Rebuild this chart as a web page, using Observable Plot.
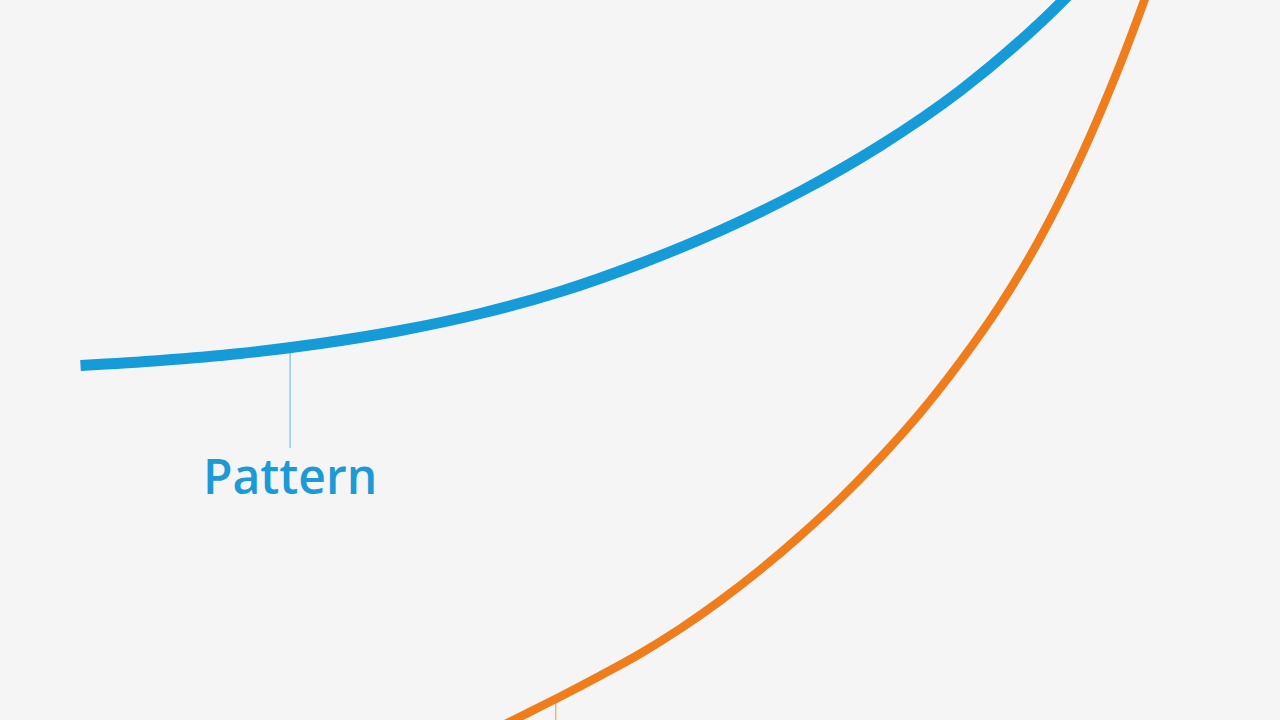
<!DOCTYPE html>
<html>
<head>
<meta charset="utf-8">
<script src="https://cdn.jsdelivr.net/npm/d3@7"></script>
<script src="https://cdn.jsdelivr.net/npm/@observablehq/plot@0.6"></script>
<style>
  html, body { margin: 0; padding: 0; background: #f5f5f5; overflow: hidden; }
  #chart svg { display: block; }
</style>
</head>
<body>
<div id="chart"></div>
<script>
// Blue series ("Pattern")
const blueX = [1, 2, 3, 4, 5, 6, 7, 8, 9, 10, 11, 12, 13, 14];
const blueY = [4.4375, 4.5, 4.5875, 4.7125, 4.875, 5.0875, 5.3625, 5.7125, 6.125, 6.6125, 7.1875, 7.875, 8.725, 9.75];

// Orange series
const orangeX = [6, 6.5, 7, 7.5, 8, 8.5, 9, 9.5, 10, 10.5, 11, 11.5, 12, 12.5, 13, 13.5, 14, 14.5];
const orangeY = [-0.2, 0.05, 0.3, 0.5625, 0.8375, 1.15, 1.5, 1.8875, 2.3125, 2.775, 3.2875, 3.85, 4.4875, 5.2, 6.0375, 7.0375, 8.2125, 9.5625];

// Labels
const labelText = ["Pattern"];
const labelX = [3.62];
const labelTop = [4.6];
const labelBottom = [3.4];
const labelY = [3.02];

const orangeLeaderX = [6.94];
const orangeLeaderTop = [0.22];
const orangeLeaderBottom = [-1];

const blue = blueX.map((x, i) => ({x, y: blueY[i]}));
const orange = orangeX.map((x, i) => ({x, y: orangeY[i]}));
const labels = labelText.map((t, i) => ({t, x: labelX[i], y1: labelTop[i], y2: labelBottom[i], ty: labelY[i]}));
const orangeLeaders = orangeLeaderX.map((x, i) => ({x, y1: orangeLeaderTop[i], y2: orangeLeaderBottom[i]}));

const chart = Plot.plot({
  width: 1280,
  height: 720,
  margin: 0,
  x: {domain: [0, 16], axis: null},
  y: {domain: [0, 9], axis: null},
  style: {background: "#f5f5f5"},
  marks: [
    Plot.ruleX(labels, {x: "x", y1: "y1", y2: "y2", stroke: "#8fcbec", strokeWidth: 1.5, clip: true}),
    Plot.ruleX(orangeLeaders, {x: "x", y1: "y1", y2: "y2", stroke: "#f5b27a", strokeWidth: 1.5, clip: true}),
    Plot.line(blue, {x: "x", y: "y", curve: "catmull-rom", stroke: "#159bd7", strokeWidth: 11, strokeLinecap: "butt", clip: true}),
    Plot.line(orange, {x: "x", y: "y", curve: "catmull-rom", stroke: "#f07d1c", strokeWidth: 8.5, strokeLinecap: "butt", clip: true}),
    Plot.text(labels, {x: "x", y: "ty", text: "t", fill: "#1c9ad6", fontSize: 48, fontFamily: "Open Sans", fontWeight: 600, textAnchor: "middle"})
  ]
});
document.getElementById("chart").appendChild(chart);
</script>
</body>
</html>
